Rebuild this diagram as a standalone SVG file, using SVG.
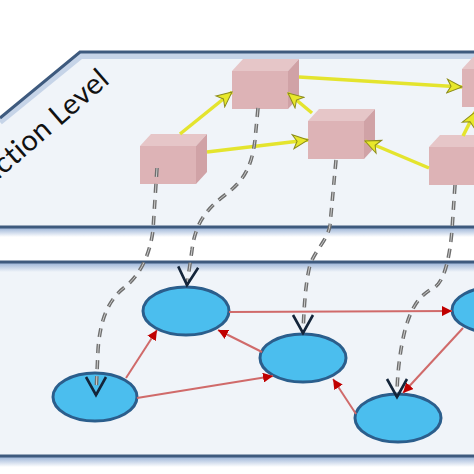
<svg xmlns="http://www.w3.org/2000/svg" width="474" height="474" viewBox="0 0 474 474">
<defs>
<linearGradient id="glow" x1="0" y1="0" x2="0" y2="1">
<stop offset="0" stop-color="#9DB5D8"/>
<stop offset="1" stop-color="#9DB5D8" stop-opacity="0"/>
</linearGradient>
<marker id="yh" markerUnits="userSpaceOnUse" markerWidth="20" markerHeight="20" refX="16" refY="8" orient="auto" viewBox="0 0 20 16">
<path d="M1,1 L16,8 L1,15 L5,8 Z" fill="#E8E82A" stroke="#8C8C1C" stroke-width="1"/>
</marker>
<marker id="rh" markerUnits="userSpaceOnUse" markerWidth="12" markerHeight="10" refX="10" refY="5" orient="auto" viewBox="0 0 12 10">
<path d="M0,0 L10,5 L0,10 Z" fill="#C00000"/>
</marker>
<marker id="vh" markerUnits="userSpaceOnUse" markerWidth="24" markerHeight="24" refX="20" refY="12" orient="auto" viewBox="0 0 24 24">
<path d="M2,2 L20,12 L2,22" fill="none" stroke="#14253A" stroke-width="2.6"/>
</marker>
</defs>
<style>
.border{fill:none;stroke:#3E5A7E;stroke-width:3}
.glowline{fill:none;stroke:#B3C6E1;stroke-width:6}
.front{fill:#DDB3B6}
.top{fill:#E6C6C8}
.side{fill:#D0A2A6}
.yl{fill:none;stroke:#E4E42E;stroke-width:3.5;marker-end:url(#yh)}
.rl{fill:none;stroke:#D06A6A;stroke-width:2;marker-end:url(#rh)}
.dl{fill:none;stroke:#6E6E6E;stroke-width:3.6;stroke-dasharray:9 7}
.dc{fill:none;stroke:#D8D8D8;stroke-width:0.9;stroke-dasharray:9 7}
.dv{fill:none;stroke:none;marker-end:url(#vh)}
.node ellipse{fill:#4BBEEE;stroke:#2B5E8C;stroke-width:3}
</style>
<rect width="474" height="474" fill="#FFFFFF"/>
<g id="planes">
<path d="M0,118 L80,52 L480,52 L480,226 L0,226 Z" fill="#F0F4F9"/>
<rect x="0" y="228" width="474" height="9" fill="url(#glow)"/>
<path d="M0,122 L81,56 L480,56" class="glowline" opacity="0.7"/>
<path d="M0,118 L80,52 L480,52" class="border"/>
<line x1="0" y1="227" x2="474" y2="227" class="border"/>
<rect x="0" y="262" width="474" height="193" fill="#F0F4F9"/>
<rect x="0" y="263" width="474" height="9" fill="url(#glow)"/>
<rect x="0" y="457" width="474" height="10" fill="url(#glow)"/>
<line x1="0" y1="262" x2="474" y2="262" class="border"/>
<line x1="0" y1="456" x2="474" y2="456" class="border"/>
<text x="111" y="82" transform="rotate(-41 111 82)" text-anchor="end" font-family="Lato, Open Sans, Liberation Sans, sans-serif" font-size="29" letter-spacing="0.5" fill="#111111">action Level</text>
</g>
<g id="cube-a">
<polygon class="top" points="140,146 151,134 207,134 196,146"/>
<polygon class="side" points="196,146 207,134 207,172 196,184"/>
<rect class="front" x="140" y="146" width="56" height="38"/>
</g>
<g id="cube-b">
<polygon class="top" points="232,71 243,59 299,59 288,71"/>
<polygon class="side" points="288,71 299,59 299,97 288,109"/>
<rect class="front" x="232" y="71" width="56" height="38"/>
</g>
<g id="cube-c">
<polygon class="top" points="308,121 319,109 375,109 364,121"/>
<polygon class="side" points="364,121 375,109 375,147 364,159"/>
<rect class="front" x="308" y="121" width="56" height="38"/>
</g>
<g id="cube-d">
<polygon class="top" points="429,147 440,135 496,135 485,147"/>
<polygon class="side" points="485,147 496,135 496,173 485,185"/>
<rect class="front" x="429" y="147" width="56" height="38"/>
</g>
<g id="cube-e">
<polygon class="top" points="462,69 473,57 529,57 518,69"/>
<polygon class="side" points="518,69 529,57 529,95 518,107"/>
<rect class="front" x="462" y="69" width="56" height="38"/>
</g>
<g id="node-1" class="node"><ellipse cx="95" cy="397" rx="42" ry="24"/></g>
<g id="node-2" class="node"><ellipse cx="186" cy="311" rx="43" ry="24"/></g>
<g id="node-3" class="node"><ellipse cx="303" cy="358" rx="43" ry="24"/></g>
<g id="node-4" class="node"><ellipse cx="495" cy="310" rx="43" ry="23"/></g>
<g id="node-5" class="node"><ellipse cx="398" cy="418" rx="43" ry="24"/></g>
<g id="connectors">
<path class="yl" d="M180,134 L232,92"/>
<path class="yl" d="M207,152 L308,140"/>
<path class="yl" d="M299,77 L462,87"/>
<path class="yl" d="M312,113 L288,93"/>
<path class="yl" d="M429,168 L365,141"/>
<path class="yl" d="M463,136 L475,112"/>
<path class="rl" d="M126,378 L157,330"/>
<path class="rl" d="M137,398 L273,376"/>
<path class="rl" d="M262,352 L218,330"/>
<path class="rl" d="M229,312 L452,311"/>
<path class="rl" d="M463,328 L403,393"/>
<path class="rl" d="M356,414 L333,379"/>
<path class="dl" d="M157,168 L153,230 C150,255 140,275 125,287 C108,300 100,320 98,350 L96,395"/>
<path class="dc" d="M157,168 L153,230 C150,255 140,275 125,287 C108,300 100,320 98,350 L96,395"/>
<path class="dv" d="M96,380 L96,395"/>
<path class="dl" d="M258,108 L255,140 C252,165 245,180 225,195 C205,210 195,225 192,250 L187,285"/>
<path class="dc" d="M258,108 L255,140 C252,165 245,180 225,195 C205,210 195,225 192,250 L187,285"/>
<path class="dv" d="M188,270 L187,285"/>
<path class="dl" d="M336,160 L330,225 C328,240 315,250 310,265 C305,285 304,310 303,333"/>
<path class="dc" d="M336,160 L330,225 C328,240 315,250 310,265 C305,285 304,310 303,333"/>
<path class="dv" d="M303,318 L303,333"/>
<path class="dl" d="M455,185 L452,230 C450,255 445,280 435,287 C420,295 412,305 405,330 C400,350 397,375 397,397"/>
<path class="dc" d="M455,185 L452,230 C450,255 445,280 435,287 C420,295 412,305 405,330 C400,350 397,375 397,397"/>
<path class="dv" d="M397,382 L397,397"/>
</g>
</svg>
